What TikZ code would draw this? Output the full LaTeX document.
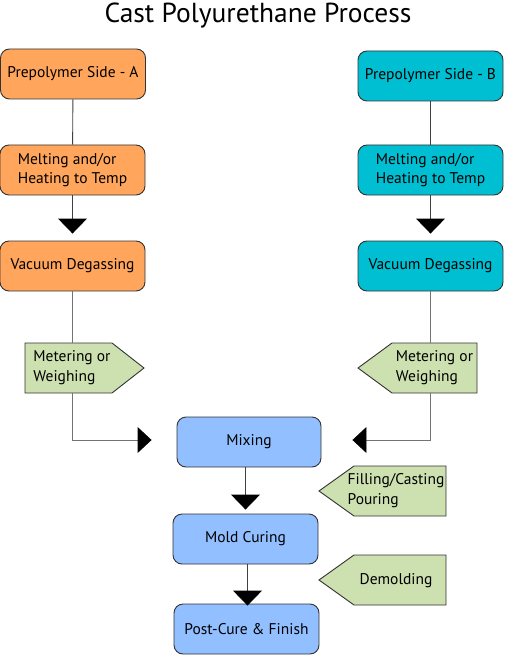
\documentclass[tikz,border=0pt]{standalone}
\usepackage{fontspec}
\setmainfont{PT Sans}
\usepackage{tikz}
\usetikzlibrary{arrows.meta, positioning, backgrounds, calc}
\definecolor{sideA}{HTML}{FFA65C}
\definecolor{sideB}{HTML}{00BFD2}
\definecolor{mixcol}{HTML}{92BFFF}
\definecolor{tagcol}{HTML}{CDE0B0}
\tikzset{%
	proc/.style={draw=black!80, line width=0.9pt, rectangle, rounded corners=9pt,%
		minimum width=145, minimum height=50, inner sep=0mm, align=left, font=\fontsize{15.5}{19}\selectfont},
	tag/.style={rectangle, minimum height=50, inner sep=0mm, outer sep=0mm, align=left,%
		font=\fontsize{15.5}{20}\selectfont},
	tagline/.style={draw=black!80, line width=0.9pt, fill=tagcol},
	connector/.style={draw=black!75, line width=0.9pt},
	feed/.style={draw=black!55, line width=0.9pt},
	flow/.style={draw=black!75, line width=0.9pt, -{Triangle[width=29pt,length=15pt,color=black,fill=black]}},
	side/.style={draw=black!55, line width=0.9pt, -{Triangle[width=26pt,length=14pt,color=black,fill=black]}}
}
\begin{document}
\begin{tikzpicture}[x=1pt, y=-1pt]
	\useasboundingbox (0,0) rectangle (504,655);
	\node[font=\fontsize{27.5}{32}\selectfont] (title) at (258,16) {Cast Polyurethane Process};

	% side A
	\node[proc, fill=sideA] (preA) at (73,74) {Prepolymer Side - A};
	\node[proc, fill=sideA] (melA) at (72.5,170) {Melting and/or\\Heating to Temp};
	\node[proc, fill=sideA] (vacA) at (72.5,266) {Vacuum Degassing};
	\node[tag, minimum width=87] (metA) at (72,368) {Metering or\\Weighing};

	% side B
	\node[proc, fill=sideB] (preB) at (430.5,76) {Prepolymer Side - B};
	\node[proc, fill=sideB] (melB) at (430.5,170) {Melting and/or\\Heating to Temp};
	\node[proc, fill=sideB] (vacB) at (430.5,266) {Vacuum Degassing};
	\node[tag, minimum width=85] (metB) at (434.5,368) {Metering or\\Weighing};

	% mixing line
	\node[proc, fill=mixcol, minimum width=144] (mix) at (249,442) {Mixing};
	\node[proc, fill=mixcol] (mold) at (245.5,539) {Mold Curing};
	\node[proc, fill=mixcol] (post) at (246.5,629) {Post-Cure \& Finish};
	\node[tag, minimum width=92] (fill) at (396,491) {Filling/Casting\\Pouring};
	\node[tag, minimum width=92] (demold) at (396,581) {Demolding};

	\begin{scope}[on background layer]
		\draw[tagline] (25,343) -- (112,343) -- (144,368) -- (112,393) -- (25,393) -- cycle;
		\draw[tagline] (metB.north east) -- (metB.north west) -- ++(-34,25) -- (metB.south west) -- (metB.south east) -- cycle;
		\draw[tagline] (354,466) -- (446,466) -- (446,516) -- (354,516) -- (319,491) -- cycle;
		\draw[tagline] (354,555) -- (446,555) -- (446,605) -- (354,605) -- (319,580) -- cycle;
	\end{scope}

	\draw[connector] (preA) -- (melA);
	\draw[connector] (preB) -- (melB);
	\draw[flow, shorten >=7pt] (melA) -- (vacA);
	\draw[flow, shorten >=7pt] (melB) -- (vacB);
	\draw[feed] (vacA.south) -- (vacA.south |- metA.north);
	\draw[feed] (vacB.south) -- (vacB.south |- metB.north);
	\draw[side, shorten >=25pt] (vacA.south |- metA.south) |- ([yshift=2pt]mix.west);
	\draw[side, shorten >=31pt] (vacB.south |- metB.south) |- ([yshift=2pt]mix.east);
	\draw[flow, shorten >=4pt] (mix.south -| mold) -- (mold.north);
	\draw[flow, shorten >=-2pt] ([xshift=2pt]mold.south) -- ([xshift=2pt]mold.south |- post.north);
\end{tikzpicture}
\end{document}
